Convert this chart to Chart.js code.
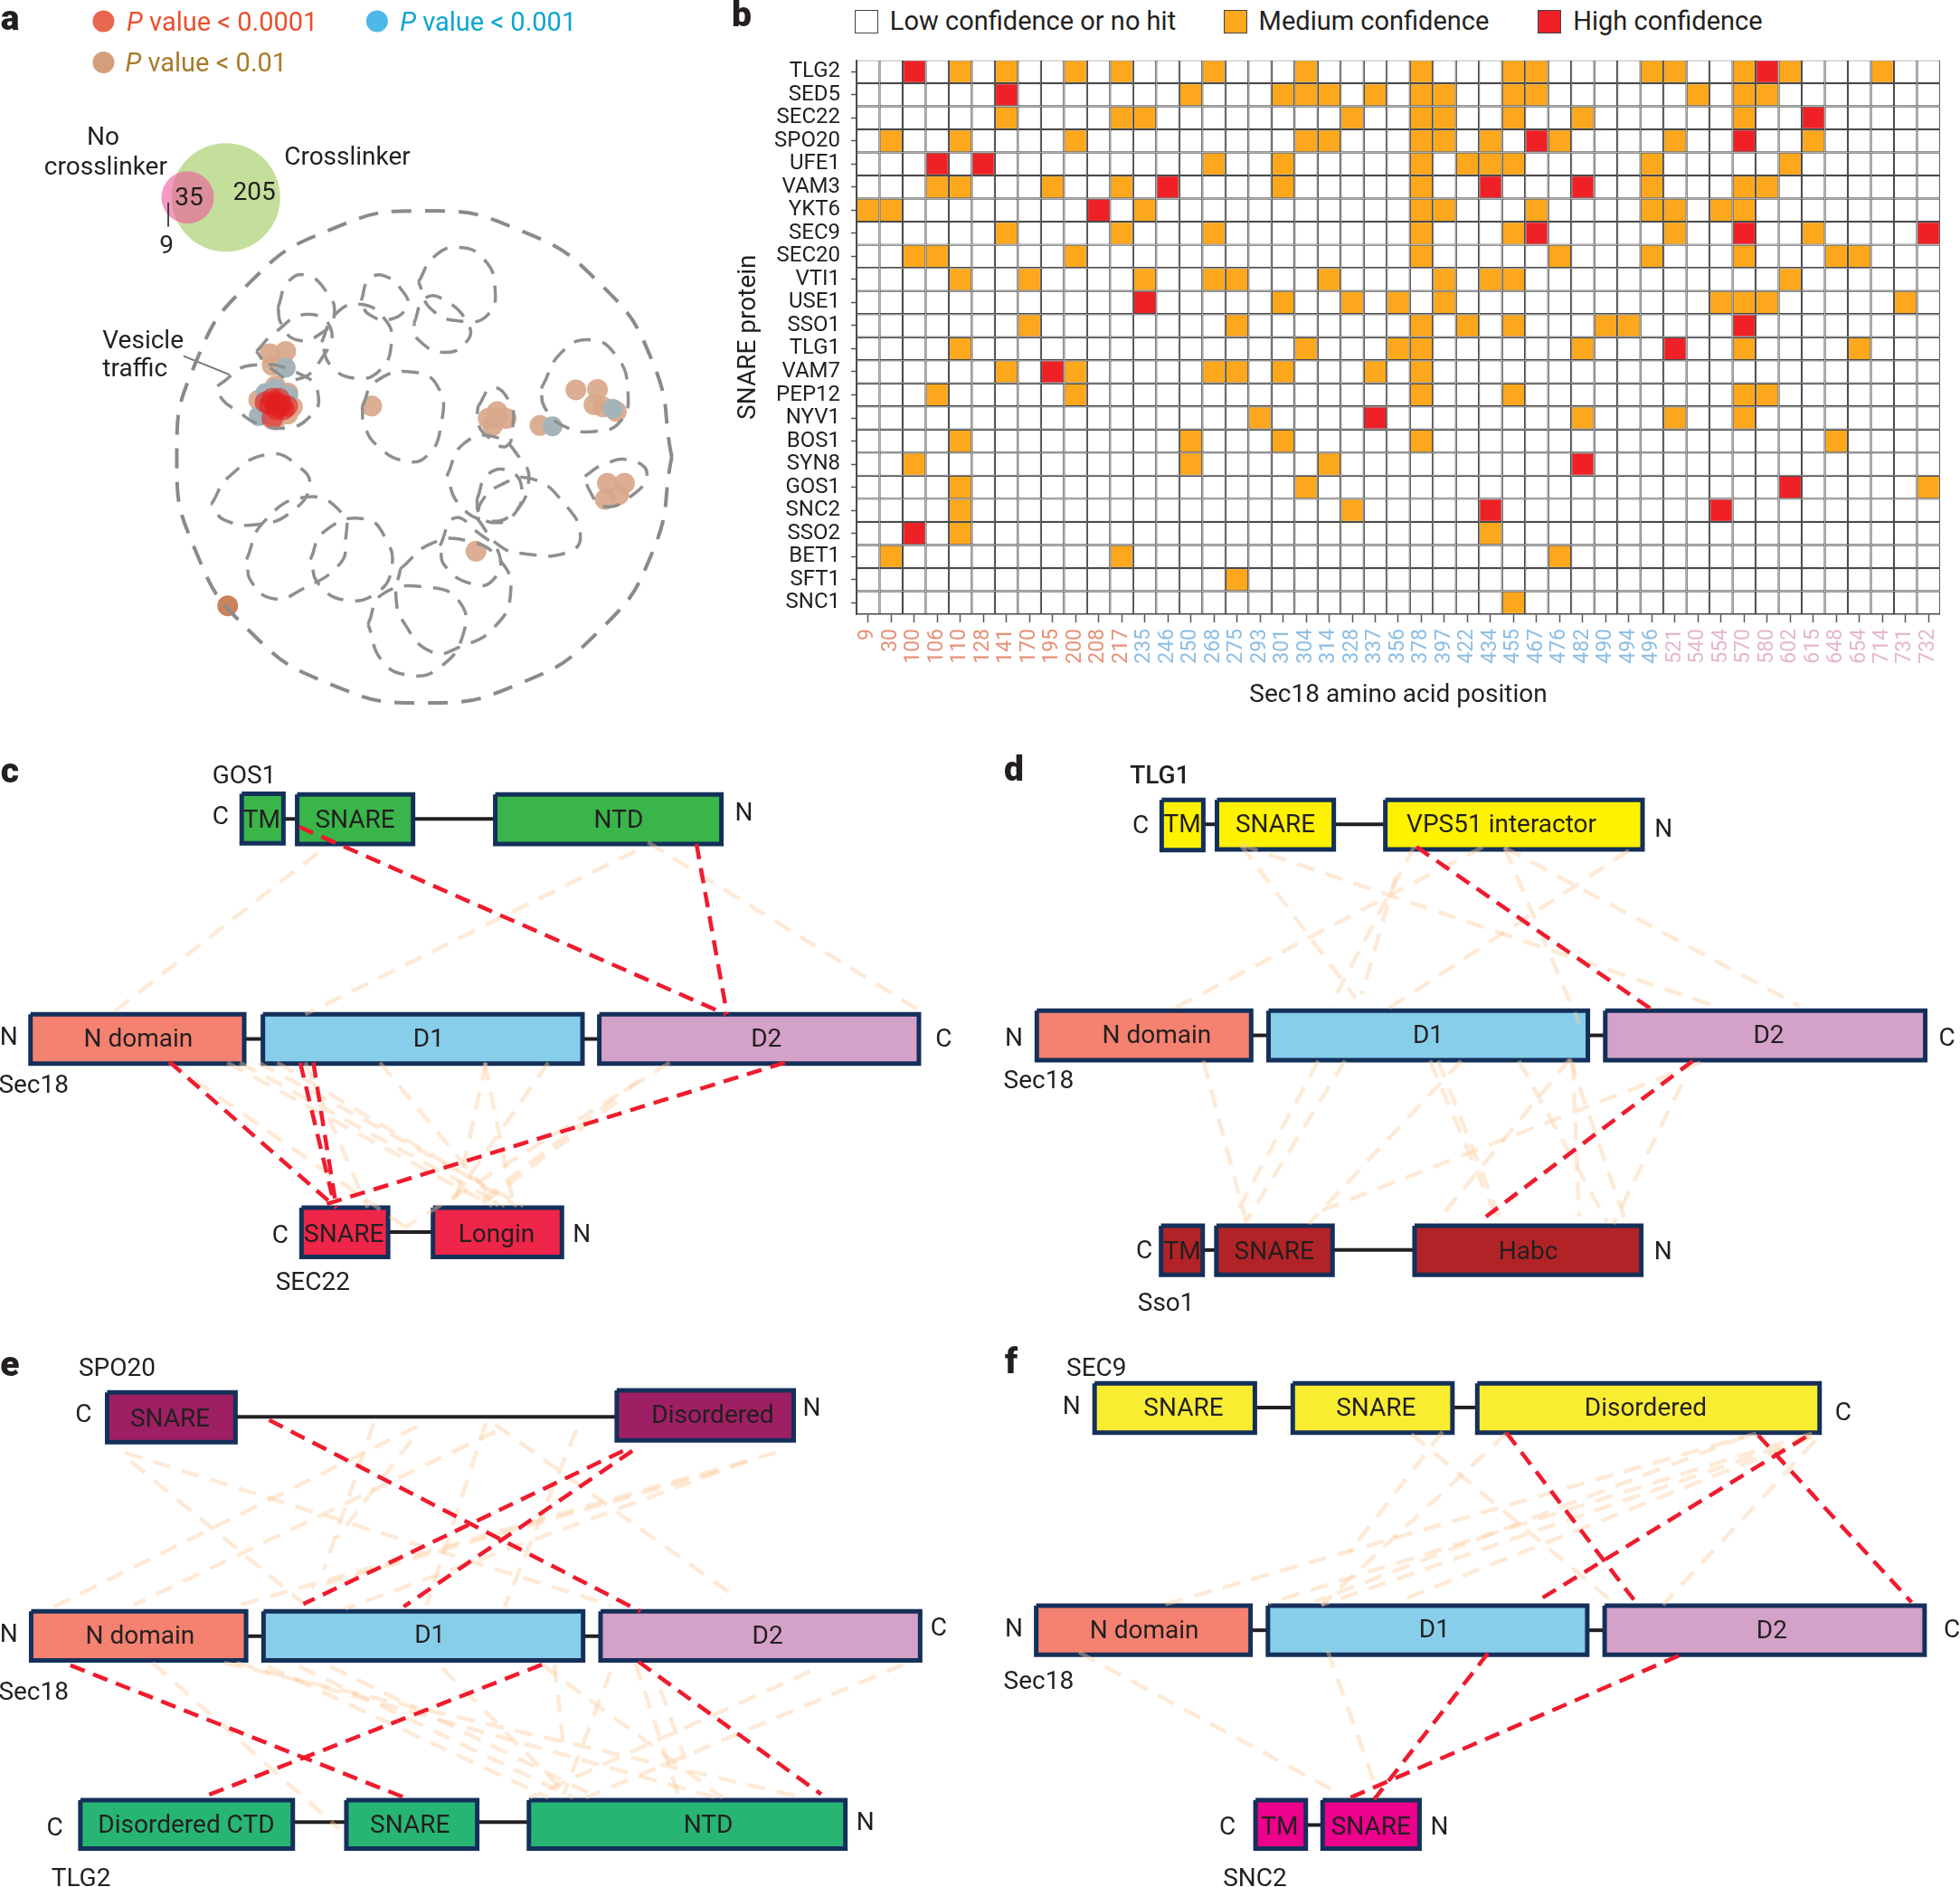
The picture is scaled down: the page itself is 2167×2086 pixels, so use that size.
<!DOCTYPE html>
<html>
<head>
<meta charset="utf-8">
<title>SNARE crosslinks with Sec18</title>
<script src="https://cdn.jsdelivr.net/npm/chart.js@4/dist/chart.umd.js"></script>
<style>
    html, body { margin: 0; background: #fff; }
    #page { position: relative; width: 2167px; height: 2086px; overflow: hidden; font-family: Roboto, sans-serif; color: #231F20; }
    canvas { position: absolute; }
    .txt { position: absolute; transform: translate(-50%, -50%); white-space: nowrap; line-height: 1; font-size: 28px; }
    .letter { font-weight: 900; font-size: 39px; }
    .swatch { position: absolute; width: 24px; height: 24px; border: 1.5px solid #444; }
</style>
</head>
<body>
<div id="page"></div>
<script>
/* ======= Panel b: heatmap values ======= */
const positions = ['9','30','100','106','110','128','141','170','195','200','208','217','235','246','250','268','275','293','301','304','314','328','337','356','378','397','422','434','455','467','476','482','490','494','496','521','540','554','570','580','602','615','648','654','714','731','732'];
const proteins = ['TLG2','SED5','SEC22','SPO20','UFE1','VAM3','YKT6','SEC9','SEC20','VTI1','USE1','SSO1','TLG1','VAM7','PEP12','NYV1','BOS1','SYN8','GOS1','SNC2','SSO2','BET1','SFT1','SNC1'];
// column indexes per protein, same order as proteins
const mediumCols = [
    [4,6,9,11,15,19,24,28,29,34,35,38,40,44],
    [14,18,19,20,22,24,25,28,29,36,38,39],
    [6,11,12,21,24,25,28,31,38],
    [1,4,9,19,20,24,25,27,30,35,41],
    [15,18,24,26,27,28,34,40],
    [3,4,8,11,18,24,34,38,39],
    [0,1,12,24,25,29,34,35,37,38],
    [6,11,15,24,28,35,41],
    [2,3,9,24,30,34,38,42,43],
    [4,7,12,15,16,20,25,27,28,40],
    [18,21,23,25,37,38,39,45],
    [7,16,24,26,28,32,33],
    [4,19,23,24,31,38,43],
    [6,9,15,16,18,22,24],
    [3,9,24,28,38,39],
    [17,31,35,38],
    [4,14,18,24,42],
    [2,14,20],
    [4,19,46],
    [4,21],
    [4,27],
    [1,11,30],
    [16],
    [28]
];
const highCols = [[2,39],[6],[41],[29,38],[3,5],[13,27,31],[10],[29,38,46],[],[],[12],[38],[35],[8],[],[22],[],[31],[40],[27,37],[2],[],[],[]];
const sectionEnds = [12, 35];

/* ======= Panel a: map of the interactome ======= */
const outerCircle = [[1493,988],[1451,784],[1332,612],[1153,497],[943,456],[733,497],[554,612],[435,784],[393,988],[435,1192],[554,1364],[733,1479],[943,1520],[1153,1479],[1332,1364],[1451,1192]];
const blobs = [
    [[618,665],[640,610],[680,595],[725,630],[743,680],[715,720],[660,735],[625,700]],
    [[715,740],[745,680],[800,658],[855,690],[870,740],[845,800],[790,818],[735,790]],
    [[803,650],[820,605],[855,597],[895,630],[905,660],[870,690],[820,680]],
    [[930,610],[965,555],[1020,535],[1075,560],[1100,620],[1085,680],[1030,695],[960,670]],
    [[920,700],[945,645],[990,650],[1040,700],[1040,735],[990,762],[930,735]],
    [[483,835],[560,790],[680,815],[708,860],[690,900],[640,925],[570,915],[530,890],[495,865]],
    [[570,760],[610,720],[680,680],[735,710],[715,775],[660,820],[600,795]],
    [[805,880],[835,825],[920,805],[975,840],[980,920],[950,985],[900,997],[840,965],[810,920]],
    [[1062,880],[1095,838],[1133,870],[1140,920],[1125,965],[1085,945],[1062,915]],
    [[1203,840],[1250,760],[1315,735],[1370,770],[1395,840],[1380,910],[1320,933],[1250,920],[1210,880]],
    [[1300,1030],[1340,1005],[1400,995],[1438,1025],[1400,1075],[1340,1095],[1310,1060]],
    [[993,1030],[1030,960],[1100,945],[1155,990],[1175,1040],[1140,1110],[1080,1125],[1020,1090]],
    [[1060,1080],[1085,1025],[1135,1020],[1160,1060],[1140,1115],[1095,1130],[1065,1110]],
    [[1060,1120],[1110,1180],[1170,1198],[1260,1195],[1290,1160],[1255,1090],[1180,1035],[1110,1050],[1070,1085]],
    [[470,1090],[510,1030],[600,982],[665,1010],[688,1050],[650,1105],[580,1133],[500,1125]],
    [[548,1210],[585,1130],[680,1075],[760,1110],[768,1170],[755,1220],[670,1275],[610,1295],[560,1260]],
    [[690,1210],[720,1150],[810,1122],[860,1170],[870,1230],[840,1280],[770,1298],[710,1265]],
    [[978,1180],[1010,1120],[1060,1150],[1110,1200],[1095,1255],[1050,1263],[990,1225]],
    [[890,1230],[960,1175],[1040,1170],[1110,1210],[1135,1280],[1100,1355],[1020,1400],[960,1410],[900,1350],[880,1290]],
    [[818,1350],[850,1285],[950,1270],[1020,1300],[1030,1370],[975,1445],[910,1460],[850,1430]]
];
const tanHits = [[600,765],[635,760],[605,790],[612,835],[590,860],[640,850],[585,895],[640,895],[612,870],[575,865],[650,880],[612,908],[826,878],[1105,890],[1085,905],[1125,905],[1095,920],[1105,905],[1200,920],[1280,843],[1328,842],[1320,875],[1340,880],[1370,890],[1350,1045],[1388,1045],[1375,1070],[1345,1080],[1058,1192]];
const greyHits = [[635,795],[590,850],[640,855],[575,900],[612,840],[1228,922],[1362,884]];
const redHits = [[612,870],[625,875],[600,875],[615,885],[630,885],[605,862],[620,862],[590,870],[638,878],[605,905],[618,878]];
const brownHits = [[506,1310]];
const legendDots = [[230,46,'#E8674F'],[838,46,'#4DB9E8'],[230,135,'#D39E7B']];
const leaderLines = [[374,438,374,490],[408,770,510,810]];
const aTexts = [['No',229,295],['crosslinker',235,360],['Crosslinker',772,338],['35',420,427],['205',565,415],['9',370,530],['Vesicle',318,735],['traffic',300,797]];

/* ======= Panel c: GOS1 / Sec18 / SEC22 ======= */
const cTop = [[388,455,120,258],[477,663,122,260],[795,1158,122,260]];
const cMid = [[49,392,735,873],[422,935,735,873],[962,1475,735,873]];
const cLow = [[484,623,1275,1412],[695,902,1275,1412]];
const cWires = [[455,477,190],[663,795,190],[392,422,804],[935,962,804],[623,695,1343]];
const cRed = [[480,212,1165,735],[1118,260,1167,735],[272,868,540,1275],[482,870,533,1240],[503,870,540,1275],[1260,870,518,1268]];
const cPale = [[510,285,178,735],[1040,255,1485,735],[1020,280,490,735],[365,870,790,1270],[385,870,810,1270],[415,870,840,1270],[445,870,830,1270],[272,870,660,1340],[490,870,590,1275],[610,870,800,1270],[778,870,825,1270],[880,870,720,1270],[1075,870,650,1330],[1025,920,760,1270],[990,980,770,1270],[780,870,730,1270]];
const cTexts = [['GOS1',392,67],['C',354,182],['TM',420,193],['SNARE',570,193],['NTD',993,193],['N',1194,172],['N',14,798],['N domain',222,803],['D1',688,803],['D2',1230,803],['C',1515,802],['Sec18',54,932],['C',450,1350],['SNARE',552,1347],['Longin',797,1347],['N',934,1347],['SEC22',502,1482]];

/* ======= Panel d: TLG1 / Sec18 / Sso1 ======= */
const dTop = [[283,350,137,277],[372,560,137,275],[643,1057,137,275]];
const dMid = [[82,427,725,863],[455,969,725,863],[997,1512,725,863]];
const dLow = [[282,349,1325,1462],[371,558,1325,1462],[690,1055,1325,1462]];
const dWires = [[350,372,205],[560,643,205],[427,455,794],[969,997,794],[349,371,1393],[558,690,1393]];
const dRed = [[693,268,1072,722],[1138,865,805,1300]];
const dPale = [[410,262,1170,710],[410,262,595,690],[690,265,555,710],[660,350,605,680],[800,268,290,730],[835,270,955,760],[835,270,1310,712],[1035,278,640,728],[350,865,420,1320],[535,865,400,1300],[578,865,420,1310],[765,865,520,1320],[715,865,825,1315],[728,865,830,1315],[858,865,1000,1315],[940,860,725,1315],[940,860,1030,1315],[945,870,955,1300],[1150,870,530,1290],[1120,930,1010,1320]];
const dTexts = [['<span style="font-weight:500">TLG1</span>',280,67],['C',249,208],['TM',316,205],['SNARE',466,205],['VPS51 interactor',830,205],['N',1091,217],['N',45,800],['N domain',275,793],['D1',712,793],['D2',1260,793],['C',1547,800],['Sec18',85,920],['C',255,1393],['TM',316,1397],['SNARE',464,1397],['Habc',873,1397],['N',1090,1395],['Sso1',290,1540]];

/* ======= Panel e: SPO20 / Sec18 / TLG2 ======= */
const eTop = [[172,378,153,295],[990,1274,147,290]];
const eMid = [[50,395,778,918],[423,936,778,918],[964,1477,778,918]];
const eLow = [[129,470,1317,1455],[556,766,1317,1455],[849,1357,1317,1455]];
const eWires = [[378,990,223],[395,423,849],[936,964,849],[470,556,1380],[766,849,1380]];
const eRed = [[432,232,1028,778],[1000,320,487,757],[1015,320,648,765],[113,932,650,1310],[870,930,328,1307],[1025,922,1318,1300]];
const ePale = [[200,325,980,760],[210,350,490,760],[670,250,75,775],[795,265,215,760],[600,240,520,660],[660,290,540,570],[780,240,685,760],[795,245,1175,730],[925,260,810,765],[1245,325,375,765],[1200,350,555,770],[1150,380,500,710],[245,925,545,1400],[360,925,1290,1310],[380,925,1150,1310],[480,935,920,1310],[530,935,960,1310],[710,940,910,1300],[870,930,1160,1310],[890,930,905,1170],[980,950,905,1300],[1020,925,1090,1310],[1300,950,850,1310],[1450,930,940,1310],[430,935,880,1310],[1060,1000,1100,1200]];
const eTexts = [['SPO20',188,83],['C',134,215],['SNARE',273,226],['Disordered',1144,216],['N',1303,196],['N',14,843],['N domain',225,848],['D1',690,845],['D2',1232,848],['C',1507,824],['Sec18',54,1008],['C',88,1395],['Disordered CTD',299,1386],['SNARE',658,1386],['NTD',1137,1386],['N',1389,1380],['TLG2',130,1540]];

/* ======= Panel f: SEC9 / Sec18 / SNC2 ======= */
const fTop = [[175,433,127,268],[494,751,127,268],[791,1342,127,268]];
const fMid = [[81,426,762,902],[454,968,762,902],[996,1511,762,902]];
const fLow = [[434,515,1317,1455],[542,698,1317,1455]];
const fWires = [[433,494,196],[751,791,196],[426,454,832],[968,996,832],[515,542,1388]];
const fRed = [[838,268,1043,745],[1243,275,1490,752],[1320,280,888,748],[808,898,625,1315],[1115,905,580,1315]];
const fPale = [[1240,270,285,760],[1330,270,455,755],[1325,280,540,760],[1330,280,675,742],[1220,280,530,750],[735,265,585,610],[838,270,540,760],[685,272,1005,745],[1335,290,1090,760],[150,895,560,1290],[550,890,630,1290]];
const fTexts = [['SEC9',178,83],['N',138,192],['SNARE',318,195],['SNARE',628,195],['Disordered',1062,195],['C',1380,208],['N',45,827],['N domain',255,832],['D1',722,828],['D2',1265,832],['C',1555,828],['Sec18',85,975],['C',389,1393],['TM',473,1393],['SNARE',620,1393],['N',730,1393],['SNC2',433,1540]];

const SEC18_COLORS = ['#F58170', '#87CEEB', '#D4A1C8'];
const page = document.getElementById('page');

function addText(html, x, y, style) {
    const div = document.createElement('div');
    div.className = 'txt';
    div.innerHTML = html;
    div.style.left = x + 'px';
    div.style.top = y + 'px';
    Object.assign(div.style, style || {});
    page.appendChild(div);
    return div;
}

function addCanvas(left, top, width, height) {
    const canvas = document.createElement('canvas');
    canvas.width = width;
    canvas.height = height;
    canvas.style.left = left + 'px';
    canvas.style.top = top + 'px';
    page.appendChild(canvas);
    return canvas;
}

/* axis units of the drawn panels run 0-1568 by 0-1565 over the panel box */
function plainOptions() {
    return {
        responsive: false,
        animation: false,
        layout: { padding: 0, autoPadding: false },
        plugins: { legend: { display: false }, tooltip: { enabled: false } },
        scales: {
            x: { type: 'linear', min: 0, max: 1568, display: false },
            y: { type: 'linear', min: 0, max: 1565, reverse: true, display: false }
        }
    };
}

function lineSet(points, color, width, dash, extra) {
    return Object.assign({
        data: points.map(p => ({ x: p[0], y: p[1] })),
        showLine: true,
        borderColor: color,
        borderWidth: width,
        borderDash: dash,
        pointRadius: 0
    }, extra || {});
}

function bubbleSet(points, color, r) {
    return {
        type: 'bubble',
        data: points.map(p => ({ x: p[0], y: p[1], r: r })),
        backgroundColor: color,
        borderWidth: 0
    };
}

function boxSet(box, fill) {
    const [x0, x1, y0, y1] = box;
    return lineSet([[x0,y0],[x1,y0],[x1,y1],[x0,y1],[x0,y0]], '#14305A', 5, [], {
        backgroundColor: fill, fill: 'shape', borderJoinStyle: 'miter'
    });
}

function drawDiagram(rect, top, topColor, mid, low, lowColor, wires, red, pale, texts) {
    // first dataset ends up on top
    const datasets = [
        ...red.map(l => lineSet([[l[0],l[1]],[l[2],l[3]]], '#EE1C2E', 4.5, [17, 10])),
        ...pale.map(l => lineSet([[l[0],l[1]],[l[2],l[3]]], 'rgba(253,205,160,0.42)', 4.5, [20, 13])),
        ...top.map(b => boxSet(b, topColor)),
        ...mid.map((b, i) => boxSet(b, SEC18_COLORS[i])),
        ...low.map(b => boxSet(b, lowColor)),
        ...wires.map(w => lineSet([[w[0],w[2]],[w[1],w[2]]], '#231F20', 4, []))
    ];
    new Chart(addCanvas(rect.left, rect.top, rect.width, rect.height), {
        type: 'scatter',
        data: { datasets: datasets },
        options: plainOptions()
    });
    texts.forEach(t => addText(t[0], rect.left + t[1] * rect.width / 1568, rect.top + t[2] * rect.height / 1565));
}

/* ======= Panel a ======= */
const aRect = { left: 0, top: 0, width: 780, height: 800 };
const closed = pts => pts.concat([pts[0]]);
new Chart(addCanvas(aRect.left, aRect.top, aRect.width, aRect.height), {
    type: 'scatter',
    data: {
        datasets: [
            lineSet(closed(outerCircle), '#8A8A8A', 4, [22, 15], { tension: 0.5 }),
            ...blobs.map(b => lineSet(closed(b), '#8F8F8F', 3.5, [19, 13], { tension: 0.5 })),
            ...leaderLines.map(l => lineSet([[l[0],l[1]],[l[2],l[3]]], l[0] === l[2] ? '#333' : '#777', l[0] === l[2] ? 1 : 2, [])),
            bubbleSet(brownHits, '#C9825A', 11.5),
            bubbleSet(redHits, 'rgba(226,30,30,0.6)', 12),
            bubbleSet(greyHits, '#A5B4BA', 11),
            bubbleSet(tanHits, 'rgba(217,167,138,0.92)', 11.5),
            bubbleSet([[417,427]], 'rgba(237,87,153,0.6)', 29),
            bubbleSet([[502,427]], '#C4DF9B', 60),
            ...legendDots.map(d => bubbleSet([[d[0], d[1]]], d[2], 12))
        ]
    },
    options: plainOptions()
});
aTexts.forEach(t => addText(t[0], t[1] * 780 / 1568, t[2] * 800 / 1565));
addText('<i>P</i> value &lt; 0.0001', 494 * 780 / 1568, 46 * 800 / 1565, { color: '#E8502E', fontSize: '29px' });
addText('<i>P</i> value &lt; 0.001', 1085 * 780 / 1568, 46 * 800 / 1565, { color: '#0DA5CF', fontSize: '29px' });
addText('<i>P</i> value &lt; 0.01', 458 * 780 / 1568, 135 * 800 / 1565, { color: '#A87B2B', fontSize: '29px' });

/* ======= Panel b ======= */
function cellColor(row, col) {
    if (highCols[row].includes(col)) return '#EF2126';
    if (mediumCols[row].includes(col)) return '#FCA71C';
    return '#FFFFFF';
}

new Chart(addCanvas(800, 40, 1367, 760), {
    type: 'bar',
    data: {
        labels: positions,
        datasets: proteins.map((name, r) => ({
            label: name,
            data: positions.map(() => 1),
            backgroundColor: positions.map((_, c) => cellColor(r, c)),
            borderColor: '#4A4A4A',
            borderWidth: 1.2,
            borderSkipped: false,
            inflateAmount: 0,
            barPercentage: 1,
            categoryPercentage: 1
        }))
    },
    options: {
        responsive: false,
        animation: false,
        layout: { padding: { top: 22, right: 17, left: 0, bottom: 0 } },
        plugins: { legend: { display: false }, tooltip: { enabled: false } },
        scales: {
            x: {
                stacked: true,
                afterFit: s => { s.height = 121; },
                grid: { drawOnChartArea: false, offset: false, tickLength: 9, tickColor: '#555', tickWidth: 1.5 },
                border: { color: '#4A4A4A', width: 1.5 },
                ticks: {
                    autoSkip: false, minRotation: 90, maxRotation: 90, padding: 7,
                    font: { family: 'Roboto', size: 23 },
                    color: ctx => ctx.index < sectionEnds[0] ? '#E59278' : ctx.index < sectionEnds[1] ? '#8DBEE3' : '#E4B7CE'
                },
                title: {
                    display: true, text: 'Sec18 amino acid position', color: '#231F20',
                    font: { family: 'Roboto', size: 28 }, padding: { top: 0, bottom: 14 }
                }
            },
            y: { stacked: true, min: 0, max: proteins.length, reverse: true, display: false },
            yNames: {
                type: 'category', position: 'left', labels: proteins, offset: true,
                afterFit: s => { s.width = 147; },
                grid: { drawOnChartArea: false, offset: false, tickLength: 6, tickColor: '#555', tickWidth: 1.5 },
                border: { color: '#4A4A4A', width: 1.5 },
                ticks: { autoSkip: false, padding: 12, color: '#231F20', font: { family: 'Roboto', size: 24 } },
                title: {
                    display: true, text: 'SNARE protein', color: '#231F20',
                    font: { family: 'Roboto', size: 28 }, padding: { top: 11, bottom: 0 }
                }
            }
        }
    }
});

[[945, '#FFFFFF', 'Low confidence or no hit', 1142], [1353, '#FCA71C', 'Medium confidence', 1519], [1700, '#EF2126', 'High confidence', 1844]].forEach(item => {
    const box = document.createElement('div');
    box.className = 'swatch';
    box.style.left = item[0] + 'px';
    box.style.top = '11px';
    box.style.background = item[1];
    page.appendChild(box);
    addText(item[2], item[3], 23, { fontSize: '29px' });
});

/* ======= Panels c-f ======= */
drawDiagram({ left: 0, top: 830, width: 1080, height: 620 }, cTop, '#39B54A', cMid, cLow, '#EF254A', cWires, cRed, cPale, cTexts);
drawDiagram({ left: 1090, top: 830, width: 1077, height: 620 }, dTop, '#FFF200', dMid, dLow, '#B22327', dWires, dRed, dPale, dTexts);
drawDiagram({ left: 0, top: 1480, width: 1080, height: 606 }, eTop, '#9E1F63', eMid, eLow, '#27B574', eWires, eRed, ePale, eTexts);
drawDiagram({ left: 1090, top: 1480, width: 1077, height: 606 }, fTop, '#F9ED32', fMid, fLow, '#EC008C', fWires, fRed, fPale, fTexts);

/* ======= Panel letters ======= */
[['a',11,20],['b',820,16],['c',11,852],['d',1121,850],['e',11,1508],['f',1118,1505]].forEach(l => {
    addText(l[0], l[1], l[2]).classList.add('letter');
});
</script>
</body>
</html>
